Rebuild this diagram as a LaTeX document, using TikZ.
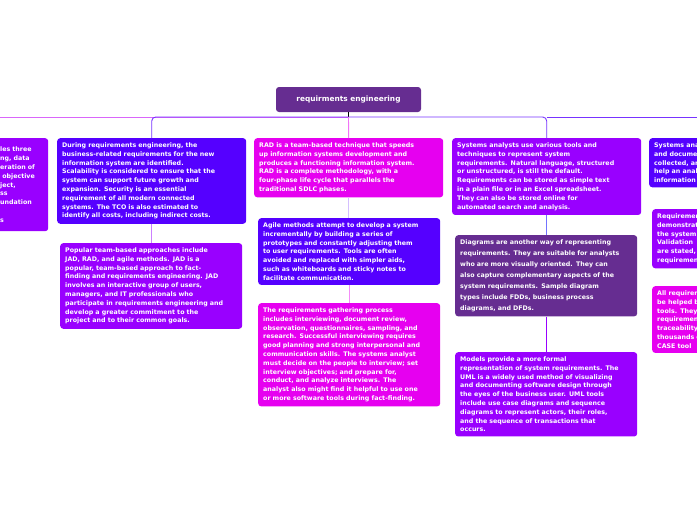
\documentclass[tikz,border=0pt]{standalone}
\usepackage{fontspec}
\setmainfont{DejaVu Sans}
\begin{document}
\begin{tikzpicture}[x=1pt,y=-1pt,
  box/.style={anchor=north west,rounded corners=3pt,text=white,font=\fontsize{6.3}{8.8}\selectfont\bfseries,align=left,inner xsep=5pt,inner ysep=4.5pt},
  wA/.style={text width=179pt},wB/.style={text width=172pt},
  cA/.style={fill=cA},cB/.style={fill=cB},cM/.style={fill=cM},cP/.style={fill=cP}]
\definecolor{cA}{HTML}{5500FF}
\definecolor{cB}{HTML}{9900FF}
\definecolor{cM}{HTML}{E600F0}
\definecolor{cP}{HTML}{662D91}
\useasboundingbox (0,0) rectangle (697,520);
\clip (0,0) rectangle (697,520);
\node[fill=cP,rounded corners=3pt,text=white,font=\fontsize{7.4}{8}\selectfont\bfseries,minimum width=145pt,minimum height=25pt] (root) at (348.5,99.5) {requirments engineering};
\coordinate (bus) at (348.5,117);
\coordinate (busL) at (0,117);
\coordinate (busR) at (697,117);
% boxes
\node[box,cB,text width=80pt,minimum height=93pt] (L0) at (-42,138) {\hspace*{37pt}les three\\\hspace*{37pt}ng, data\\\hspace*{37pt}eration of\\\hspace*{37pt} objective\\\hspace*{37pt}ject,\\\hspace*{37pt}ss\\\hspace*{37pt}undation\\\mbox{}\\\hspace*{37pt}s};
\node[box,cA,wA] (A1) at (57,138) {During requirements engineering, the\\business-related requirements for the new\\information system are identified.\\Scalability is considered to ensure that the\\system can support future growth and\\expansion. Security is an essential\\requirement of all modern connected\\systems. The TCO is also estimated to\\identify all costs, including indirect costs.};
\node[box,cB,wB] (A2) at (60,243) {Popular team-based approaches include\\JAD, RAD, and agile methods. JAD is a\\popular, team-based approach to fact-\\finding and requirements engineering. JAD\\involves an interactive group of users,\\managers, and IT professionals who\\participate in requirements engineering and\\develop a greater commitment to the\\project and to their common goals.};
\node[box,cM,wA] (B1) at (254,138) {RAD is a team-based technique that speeds\\up information systems development and\\produces a functioning information system.\\RAD is a complete methodology, with a\\four-phase life cycle that parallels the\\traditional SDLC phases.};
\node[box,cA,wB] (B2) at (258,218) {Agile methods attempt to develop a system\\incrementally by building a series of\\prototypes and constantly adjusting them\\to user requirements. Tools are often\\avoided and replaced with simpler aids,\\such as whiteboards and sticky notes to\\facilitate communication.};
\node[box,cM,wB] (B3) at (258,303) {The requirements gathering process\\includes interviewing, document review,\\observation, questionnaires, sampling, and\\research. Successful interviewing requires\\good planning and strong interpersonal and\\communication skills. The systems analyst\\must decide on the people to interview; set\\interview objectives; and prepare for,\\conduct, and analyze interviews. The\\analyst also might find it helpful to use one\\or more software tools during fact-finding.};
\node[box,cB,wA] (C1) at (452,138) {Systems analysts use various tools and\\techniques to represent system\\requirements. Natural language, structured\\or unstructured, is still the default.\\Requirements can be stored as simple text\\in a plain file or in an Excel spreadsheet.\\They can also be stored online for\\automated search and analysis.};
\node[box,cP,wB,font=\fontsize{6.3}{11}\selectfont\bfseries] (C2) at (455,235) {Diagrams are another way of representing\\requirements. They are suitable for analysts\\who are more visually oriented. They can\\also capture complementary aspects of the\\system requirements. Sample diagram\\types include FDDs, business process\\diagrams, and DFDs.};
\node[box,cB,wB] (C3) at (455,352) {Models provide a more formal\\representation of system requirements. The\\UML is a widely used method of visualizing\\and documenting software design through\\the eyes of the business user. UML tools\\include use case diagrams and sequence\\diagrams to represent actors, their roles,\\and the sequence of transactions that\\occurs.};
\node[box,cA,text width=110pt] (D1) at (649,138) {Systems analysts\\and documents\\collected, and\\help an analyst\\information};
\node[box,cB,text width=110pt] (D2) at (652,209) {Requirements\\demonstrate\\the system\\Validation\\are stated,\\requirements};
\node[box,cM,text width=110pt] (D3) at (652,286) {All requirements\\be helped by\\tools. They\\requirements\\traceability\\thousands of\\CASE tool};
% connectors
\draw[line width=1pt,cA] (root.south) -- (bus);
\draw[line width=0.9pt,color=cB!50!cM!60] (bus) -- (busL);
\draw[line width=0.9pt,color=cA!80,rounded corners=4pt] (bus) -| (A1.north);
\draw[line width=0.9pt,color=cA!80,rounded corners=4pt] (bus) -| (C1.north);
\draw[line width=0.9pt,color=cA!80] (C1.north |- bus) -- (busR);
\draw[line width=0.9pt,color=cM!55] (bus) -- (B1.north);
\draw[line width=0.9pt,color=cB!50] (A1.south) -- (A1.south |- A2.north);
\draw[line width=0.9pt,color=cA!25] (B1.south) -- (B1.south |- B2.north);
\draw[line width=0.9pt,color=cM!45] (B2.south) -- (B2.south |- B3.north);
\draw[line width=0.9pt,color=blue!55] (C1.south) -- (C1.south |- C2.north);
\draw[line width=0.9pt,color=cB] (C2.south) -- (C2.south |- C3.north);
\end{tikzpicture}
\end{document}
